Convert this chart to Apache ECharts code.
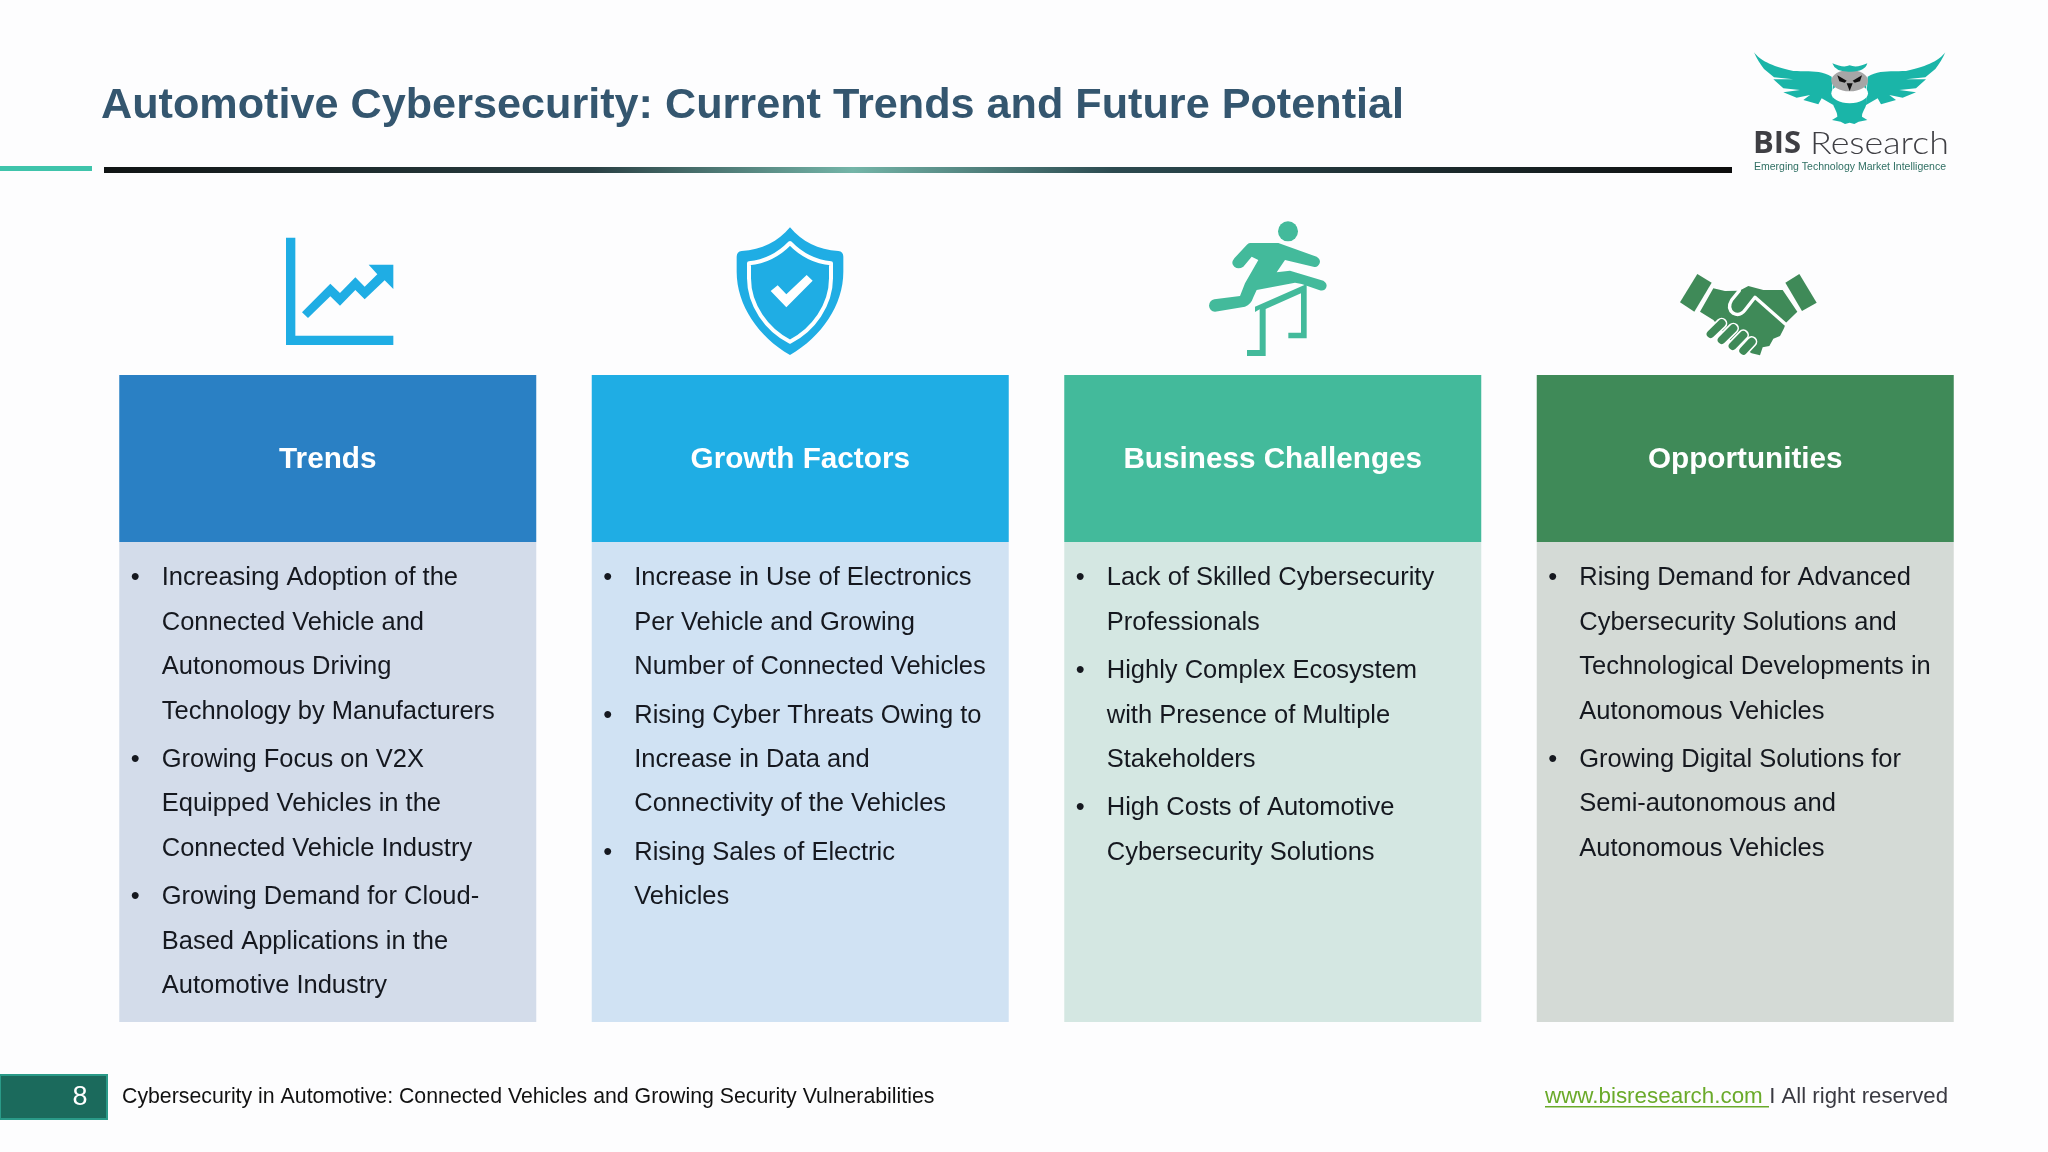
<!DOCTYPE html>
<html>
<head>
<meta charset="utf-8">
<title>Automotive Cybersecurity</title>
<script src="https://cdn.jsdelivr.net/npm/echarts@6/dist/echarts.min.js"></script>
<style>
  html, body { margin: 0; padding: 0; background: #fdfdfe; }
  #chart { width: 2048px; height: 1152px; }
</style>
</head>
<body>
<div id="chart"></div>
<script>
var chart = echarts.init(document.getElementById("chart"));

var titleText = "Automotive Cybersecurity: Current Trends and Future Potential";
var categories = ["Trends", "Growth Factors", "Business Challenges", "Opportunities"];
var headerShare = [25.8, 25.8, 25.8, 25.8];
var bodyShare = [74.2, 74.2, 74.2, 74.2];

var trendsItems = [
  ["Increasing Adoption of the", "Connected Vehicle and", "Autonomous Driving", "Technology by Manufacturers"],
  ["Growing Focus on V2X", "Equipped Vehicles in the", "Connected Vehicle Industry"],
  ["Growing Demand for Cloud-", "Based Applications in the", "Automotive Industry"]
];
var growthItems = [
  ["Increase in Use of Electronics", "Per Vehicle and Growing", "Number of Connected Vehicles"],
  ["Rising Cyber Threats Owing to", "Increase in Data and", "Connectivity of the Vehicles"],
  ["Rising Sales of Electric", "Vehicles"]
];
var challengeItems = [
  ["Lack of Skilled Cybersecurity", "Professionals"],
  ["Highly Complex Ecosystem", "with Presence of Multiple", "Stakeholders"],
  ["High Costs of Automotive", "Cybersecurity Solutions"]
];
var opportunityItems = [
  ["Rising Demand for Advanced", "Cybersecurity Solutions and", "Technological Developments in", "Autonomous Vehicles"],
  ["Growing Digital Solutions for", "Semi-autonomous and", "Autonomous Vehicles"]
];

var footerText = "Cybersecurity in Automotive: Connected Vehicles and Growing Security Vulnerabilities";
var pageNumber = "8";
var siteText = "www.bisresearch.com ";
var rightsText = "I All right reserved";

var headerColors = ["#2a80c4", "#1fade4", "#43ba9b", "#3f8a58"];
var bodyColors = ["#d3dcea", "#d0e2f3", "#d4e7e2", "#d4dad6"];
var sans = '"Liberation Sans", Arial, sans-serif';

// flatten the bullet lists into one row per printed line
var columns = [trendsItems, growthItems, challengeItems, opportunityItems];
var bodyLines = [];
columns.forEach(function (items, col) {
  var row = 0;
  items.forEach(function (lines, item) {
    lines.forEach(function (line, n) {
      bodyLines.push({ col: col, row: row, item: item, text: line, bullet: n == 0 });
      row++;
    });
  });
});

// icons are drawn in 3x crop units, then scaled down
function icon(x, y, children) {
  return { type: "group", x: x, y: y, scaleX: 1 / 3, scaleY: 1 / 3, children: children };
}
function fillPath(d, color) {
  return { type: "path", shape: { pathData: d }, style: { fill: color } };
}
function linePath(d, color, width) {
  return { type: "path", shape: { pathData: d }, style: { fill: "none", stroke: color, lineWidth: width, lineCap: "round", lineJoin: "round" } };
}

function trendsIcon(x, y) {
  var c = "#1fade4";
  return icon(x, y, [
    fillPath("M48 68H76V362H370V390H48Z", c),
    fillPath("M96 292L181 206L210 234L256 187L284 215L322 178L296 149H370V222L344 196L284 253L256 225L210 272L181 244L114 309Z", c)
  ]);
}
function shieldIcon(x, y) {
  var c = "#1fade4";
  return icon(x, y, [
    fillPath("M195 37C160 80 110 105 50 108Q35 110 35 125L35 170C35 270 100 365 195 420C290 365 355 270 355 170L355 125Q355 110 340 108C280 105 230 80 195 37Z", c),
    linePath("M195 84C165 115 125 140 72 145L72 190C72 270 125 345 195 380C265 345 318 270 318 190L318 145C265 140 225 115 195 84Z", "#fff", 12),
    fillPath("M137 228L158 211L184 238L245 180L263 197L184 277Z", "#fff")
  ]);
}
function hurdleIcon(x, y) {
  var c = "#43ba9b";
  return icon(x, y, [
    { type: "circle", shape: { cx: 279, cy: 64, r: 30 }, style: { fill: c } },
    fillPath("M165 99L250 99L365 140Q378 148 374 160Q368 174 355 170L270 150L245 187L285 182L385 212Q398 220 394 232Q388 246 372 240L320 222L300 218L185 240L175 262Q168 284 150 290L60 305Q44 304 42 287Q44 270 58 268L135 258L150 220L190 150L170 140L145 170Q130 180 118 170Q106 160 118 145L155 105Q160 99 165 99Z", c),
    fillPath("M180 290L335 222V385H280V368H318V250L212 297V438H156V420H194V298L180 306Z", c)
  ]);
}
function handshakeIcon(x, y) {
  var c = "#3f8a58";
  var fingers = ["M92 222L125 190", "M125 240L160 205", "M158 258L190 225", "M190 272L215 245"];
  var kids = [
    fillPath("M52 42L95 68L43 155L0 127Z", c),
    fillPath("M358 42L410 128L366 153L316 68Z", c),
    fillPath("M100 85L135 93L178 92L205 78L250 90L308 90L352 155L318 188L312 205L300 228L280 236L268 258L248 262L240 286L215 280L150 240L100 180L60 155Z", c),
    linePath("M178 92L155 120Q140 145 160 160Q180 170 195 150L225 112L316 192", "#fff", 10)
  ];
  fingers.forEach(function (d) {
    kids.push(linePath(d, "#fff", 34));
    kids.push(linePath(d, c, 24));
  });
  return icon(x, y, kids);
}
var iconMakers = [trendsIcon, shieldIcon, hurdleIcon, handshakeIcon];
var iconPlace = [[270, 215], [725, 215], [1195, 210], [1680, 260]];

function owlLogo() {
  var teal = "#1ab5a8";
  var wing = "M12 37C30 60 60 78 130 93C170 95 210 88 245 110L250 195L215 175L205 193L160 180L180 165L140 173L100 157L150 150L100 145L70 118L130 118L72 112L42 87C30 72 20 55 12 37Z";
  return icon(1750, 40, [
    fillPath(wing, teal),
    { type: "group", x: 598, scaleX: -1, children: [fillPath(wing, teal)] },
    fillPath("M250 110H348L350 190C345 210 336 215 336 230L352 240L326 245L313 252L299 248L285 252L272 245L246 240L262 230C262 215 252 205 248 190Z", teal),
    { type: "ellipse", shape: { cx: 299, cy: 160, rx: 55, ry: 30 }, style: { fill: "#fff" } },
    { type: "ellipse", shape: { cx: 299, cy: 122, rx: 55, ry: 32 }, style: { fill: "#a6a6a6" } },
    fillPath("M247 70Q280 85 299 76Q320 85 352 70Q345 96 299 95Q255 96 247 70Z", teal),
    fillPath("M262 106L290 122L284 128L268 124Z", "#111"),
    fillPath("M336 106L308 122L314 128L330 124Z", "#111"),
    fillPath("M290 130L308 130L299 153Z", "#111")
  ]);
}

function logoTexts() {
  return [
    { type: "text", style: { text: "BIS", x: 1753, y: 160, textVerticalAlign: "bottom", font: 'bold 31px "Open Sans"', fill: "#3f3f44" } },
    { type: "text", x: 1810, y: 160, scaleX: 1.12, style: { text: "Research", textVerticalAlign: "bottom", font: '300 32px Lato', fill: "#3f3f44" } },
    { type: "text", style: { text: "Emerging Technology Market Intelligence", x: 1754, y: 167, textVerticalAlign: "middle", font: "10.5px " + sans, fill: "#2f6f63" } }
  ];
}

chart.setOption({
  animation: false,
  backgroundColor: "#fdfdfe",
  title: {
    text: titleText,
    left: 101,
    top: 85,
    padding: 0,
    textStyle: { fontFamily: sans, fontWeight: "bold", fontSize: 43.2, color: "#34566f" }
  },
  tooltip: { show: false },
  grid: { left: 91.5, right: 66.5, top: 375, bottom: 130 },
  xAxis: {
    type: "category",
    data: categories,
    axisLine: { show: false },
    axisTick: { show: false },
    axisLabel: { show: false }
  },
  yAxis: { type: "value", min: 0, max: 100, show: false, splitLine: { show: false } },
  graphic: [
    { type: "rect", shape: { x: 0, y: 166, width: 92, height: 5 }, style: { fill: "#3fc4ab" } },
    {
      type: "rect",
      shape: { x: 104, y: 167, width: 1628, height: 6 },
      style: {
        fill: {
          type: "linear", x: 0, y: 0, x2: 1, y2: 0,
          colorStops: [
            { offset: 0, color: "#101414" },
            { offset: 0.3, color: "#2a4044" },
            { offset: 0.46, color: "#74b5a8" },
            { offset: 0.62, color: "#2c4a50" },
            { offset: 1, color: "#0d0d0d" }
          ]
        }
      }
    },
    { type: "rect", shape: { x: 0, y: 1075, width: 107, height: 44 }, style: { fill: "#1b6a5c", stroke: "#2a9a88", lineWidth: 2 } },
    { type: "text", style: { text: pageNumber, x: 80, y: 1098, textAlign: "center", textVerticalAlign: "middle", font: "27px " + sans, fill: "#fff" } },
    { type: "text", style: { text: footerText, x: 122, y: 1097, textVerticalAlign: "middle", font: "21.3px " + sans, fill: "#111" } },
    { type: "text", style: { text: siteText, x: 1545, y: 1097, textVerticalAlign: "middle", font: "22.4px " + sans, fill: "#6aaa2a" } },
    { type: "rect", shape: { x: 1545, y: 1106, width: 224, height: 1.6 }, style: { fill: "#6aaa2a" } },
    { type: "text", style: { text: rightsText, x: 1948, y: 1097, textAlign: "right", textVerticalAlign: "middle", font: "22.2px " + sans, fill: "#3a3a42" } }
  ],
  series: [
    {
      type: "bar",
      stack: "card",
      barWidth: 417,
      silent: true,
      data: bodyShare.map(function (v, i) {
        return { value: v, itemStyle: { color: bodyColors[i] } };
      })
    },
    {
      type: "bar",
      stack: "card",
      barWidth: 417,
      silent: true,
      data: headerShare.map(function (v, i) {
        return { value: v, itemStyle: { color: headerColors[i] } };
      }),
      label: {
        show: true,
        position: "inside",
        offset: [0, 1],
        formatter: "{b}",
        fontFamily: sans,
        fontWeight: "bold",
        fontSize: 29.7,
        color: "#fff"
      }
    },
    {
      // the bullet text, one data row per printed line
      type: "custom",
      silent: true,
      z: 5,
      data: bodyLines.map(function (l) { return [l.col, 50]; }),
      encode: { x: 0, y: 1 },
      renderItem: function (params, api) {
        var l = bodyLines[params.dataIndex];
        var p = api.coord([l.col, bodyShare[l.col]]);
        var left = p[0] - 417 / 2;
        var y = p[1] + 36.5 + l.row * 44.4 + l.item * 4;
        var kids = [{
          type: "text",
          style: { text: l.text, x: left + 42.5, y: y, textVerticalAlign: "middle", font: "25.5px " + sans, fill: "#15181f" }
        }];
        if (l.bullet) {
          kids.push({
            type: "text",
            style: { text: "\u2022", x: left + 16, y: y, textAlign: "center", textVerticalAlign: "middle", font: "25.5px " + sans, fill: "#15181f" }
          });
        }
        return { type: "group", children: kids };
      }
    },
    {
      // the four pictograms above the cards
      type: "custom",
      coordinateSystem: "none",
      silent: true,
      data: categories.map(function (c, i) { return [i]; }),
      renderItem: function (params) {
        var place = iconPlace[params.dataIndex];
        return iconMakers[params.dataIndex](place[0], place[1]);
      }
    },
    {
      type: "custom",
      coordinateSystem: "none",
      silent: true,
      data: [[0]],
      renderItem: function () {
        return { type: "group", children: [owlLogo()].concat(logoTexts()) };
      }
    }
  ]
});
</script>
</body>
</html>
